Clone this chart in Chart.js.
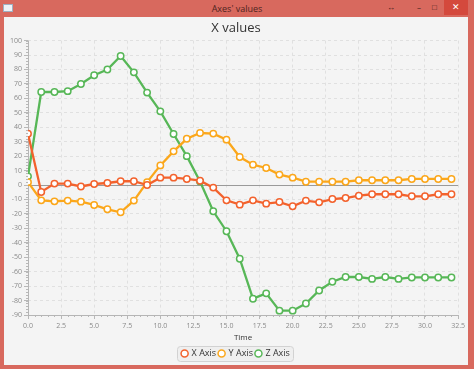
<!DOCTYPE html>
<html lang="en">
  <head>
    <meta charset="UTF-8" />
    <meta name="viewport" content="width=device-width, initial-scale=1.0" />
    <script src="https://cdn.jsdelivr.net/npm/chart.js"></script>
    <title>Axes' values</title>
    <style>
      html,
      body {
        margin: 0;
        padding: 0;
        width: 474px;
        height: 369px;
        overflow: hidden;
        background: #d8695e;
        font-family: "Open Sans", sans-serif;
      }
      .janela {
        position: relative;
        width: 474px;
        height: 369px;
        background: #d8695e;
      }
      .titulo-janela {
        position: absolute;
        left: 0;
        right: 0;
        top: 2px;
        text-align: center;
        font-size: 9px;
        color: #4e2420;
      }
      .icone {
        position: absolute;
        left: 3px;
        top: 4px;
        width: 8px;
        height: 6px;
        background: #eef2f6;
        border: 1px solid #9fb0c2;
      }
      .botao {
        position: absolute;
        top: 1px;
        font-size: 8px;
        color: #3a1a18;
      }
      .fechar {
        position: absolute;
        left: 444px;
        top: 0;
        width: 24px;
        height: 15px;
        background: #d4493d;
        color: #fff;
        font-size: 9px;
        text-align: center;
        line-height: 14px;
      }
      .conteudo {
        position: absolute;
        left: 4px;
        top: 17px;
        width: 464px;
        height: 348px;
        background: #f4f4f4;
        overflow: hidden;
      }
    </style>
  </head>

  <body>
    <div class="janela">
      <div class="icone"></div>
      <div class="titulo-janela">Axes' values</div>
      <span class="botao" style="left: 387px">↔</span>
      <span class="botao" style="left: 417px">–</span>
      <span class="botao" style="left: 432px">□</span>
      <div class="fechar">✕</div>
      <div class="conteudo">
        <canvas id="grafico" width="464" height="348"></canvas>
      </div>
    </div>

    <script>
      // dados
      var tempo = [
        0, 1, 2, 3, 4, 5, 6, 7, 8, 9, 10, 11, 12, 13, 14, 15, 16, 17, 18, 19,
        20, 21, 22, 23, 24, 25, 26, 27, 28, 29, 30, 31, 32,
      ];
      var eixoX = [
        35.5, -4.8, 1, 1, -1, 0.7, 1.4, 2.6, 2.6, 0, 5.1, 5.1, 4.2, 3, -1.8,
        -10.6, -13.6, -10.6, -12.9, -11.8, -14.7, -10.8, -12, -9.7, -9, -7.4,
        -6.4, -6.4, -6.4, -7.8, -7.8, -6.4, -6.4,
      ];
      var eixoY = [
        2, -10.6, -11.3, -10.8, -11.5, -13.8, -16.8, -18.9, -10.8, 2, 13.6,
        23.3, 32, 36, 35.6, 31.4, 19.4, 14.1, 11.8, 7.2, 5.1, 2.3, 2.3, 2.3,
        2.3, 3.3, 3.3, 3.3, 3.3, 4.2, 4.2, 4.2, 4.2,
      ];
      var eixoZ = [
        6, 64.4, 64.4, 65, 70, 76, 80, 89.3, 78, 64, 51, 35.3, 20, 2.5, -18.2,
        -32, -51, -78.7, -75, -87, -87, -82, -73, -67, -63.7, -63.7, -65,
        -63.7, -65, -64, -64, -64, -64,
      ];
      var nomesSeries = ["X Axis", "Y Axis", "Z Axis"];
      var tituloGrafico = "X values";
      var tituloTempo = "Time";

      var fonte = "'Open Sans', sans-serif";
      Chart.defaults.font.family = fonte;

      function pontos(valores) {
        return tempo.map(function (t, i) {
          return { x: t, y: valores[i] };
        });
      }

      function serie(nome, valores, cor) {
        return {
          label: nome,
          data: pontos(valores),
          borderColor: cor,
          borderWidth: 2.3,
          pointBackgroundColor: "#ffffff",
          pointBorderColor: cor,
          pointBorderWidth: 1.5,
          pointRadius: 3.2,
          pointStyle: "circle",
          tension: 0,
        };
      }

      // linha do zero, eixos, ticks menores e caixa da legenda
      var extras = {
        id: "extras",
        beforeDraw: function (chart) {
          var leg = chart.legend;
          if (!leg || !leg.legendHitBoxes.length) return;
          var caixas = leg.legendHitBoxes;
          var esq = caixas[0].left - 5;
          var ult = caixas[caixas.length - 1];
          var dir = ult.left + ult.width + 3;
          var topo = caixas[0].top - 3;
          var alt = caixas[0].height + 6;
          var ctx = chart.ctx;
          ctx.save();
          ctx.fillStyle = "#efefef";
          ctx.strokeStyle = "#d2d2d2";
          ctx.lineWidth = 1;
          ctx.beginPath();
          ctx.roundRect(
            Math.round(esq) + 0.5,
            Math.round(topo) + 0.5,
            Math.round(dir - esq),
            Math.round(alt),
            3
          );
          ctx.fill();
          ctx.stroke();
          ctx.restore();
        },
        beforeDatasetsDraw: function (chart) {
          var ctx = chart.ctx;
          var area = chart.chartArea;
          var x = chart.scales.x;
          var y = chart.scales.y;
          ctx.save();
          ctx.lineWidth = 1;

          // ticks menores
          ctx.strokeStyle = "#b8b8b8";
          ctx.beginPath();
          for (var v = -90; v <= 100; v += 2) {
            var py = Math.round(y.getPixelForValue(v)) + 0.5;
            ctx.moveTo(area.left - 2, py);
            ctx.lineTo(area.left, py);
          }
          for (var t = 0; t <= 32.5; t += 0.5) {
            var px = Math.round(x.getPixelForValue(t)) + 0.5;
            ctx.moveTo(px, area.bottom);
            ctx.lineTo(px, area.bottom + 2);
          }
          ctx.stroke();

          // eixos
          ctx.strokeStyle = "#b5b5b5";
          ctx.beginPath();
          ctx.moveTo(Math.round(area.left) + 0.5, area.top);
          ctx.lineTo(Math.round(area.left) + 0.5, area.bottom);
          ctx.moveTo(area.left, Math.round(area.bottom) + 0.5);
          ctx.lineTo(area.right, Math.round(area.bottom) + 0.5);
          ctx.stroke();

          // linha do zero
          var y0 = Math.round(y.getPixelForValue(0)) + 0.5;
          ctx.strokeStyle = "#9a9a9a";
          ctx.beginPath();
          ctx.moveTo(area.left, y0);
          ctx.lineTo(area.right, y0);
          ctx.stroke();
          ctx.restore();
        },
      };

      var areaGrafico = document.getElementById("grafico");

      var grafico = new Chart(areaGrafico, {
        type: "line",
        data: {
          datasets: [
            serie(nomesSeries[0], eixoX, "#f3622d"),
            serie(nomesSeries[1], eixoY, "#fba71b"),
            serie(nomesSeries[2], eixoZ, "#57b757"),
          ],
        },
        options: {
          responsive: false,
          animation: false,
          devicePixelRatio: 1,
          layout: { padding: { left: 0, right: 0, top: 0, bottom: -3 } },
          plugins: {
            tooltip: { enabled: false },
            title: {
              display: true,
              text: tituloGrafico,
              color: "#333333",
              font: { size: 13, weight: "normal" },
              padding: { top: 3, bottom: 5 },
            },
            legend: {
              position: "bottom",
              labels: {
                usePointStyle: true,
                boxWidth: 5,
                boxHeight: 5,
                padding: 3,
                color: "#333333",
                font: { size: 9 },
              },
            },
          },
          scales: {
            x: {
              type: "linear",
              min: 0,
              max: 32.5,
              afterFit: function (escala) {
                escala.height = 31;
              },
              ticks: {
                stepSize: 2.5,
                color: "#8a8a8a",
                font: { size: 7 },
                padding: 3,
                maxRotation: 0,
                callback: function (v) {
                  return Number(v).toFixed(1);
                },
              },
              grid: {
                color: "#e0e0e0",
                tickColor: "#b8b8b8",
                tickLength: 4,
              },
              border: { display: false, dash: [3, 3] },
              title: {
                display: true,
                text: tituloTempo,
                color: "#333333",
                font: { size: 8 },
                padding: { top: 0, bottom: 3 },
              },
            },
            y: {
              min: -90,
              max: 100,
              afterFit: function (escala) {
                escala.width = 24;
              },
              ticks: {
                stepSize: 10,
                color: "#8a8a8a",
                font: { size: 7 },
                padding: 2,
              },
              grid: {
                color: "#e0e0e0",
                tickColor: "#b8b8b8",
                tickLength: 4,
              },
              border: { display: false, dash: [3, 3] },
            },
          },
        },
        plugins: [extras],
      });
    </script>
  </body>
</html>
